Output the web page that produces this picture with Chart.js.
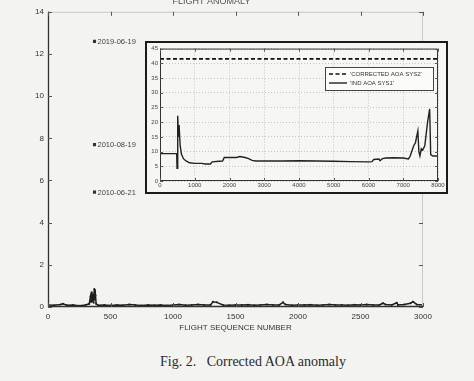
<!DOCTYPE html>
<html><head><meta charset="utf-8">
<script src="https://cdn.jsdelivr.net/npm/chart.js@4"></script>
<style>
html,body{margin:0;padding:0;background:#f3f3f1;width:474px;height:381px;overflow:hidden;position:relative;}
#main{position:absolute;left:0;top:-7px;}
#insetBox{position:absolute;left:145px;top:41px;width:299px;height:149px;border:2px solid #1a1a1a;background:#f6f6f4;}
#inset{display:block;}
#cap{position:absolute;left:16px;width:474px;top:354px;text-align:center;font-family:"Liberation Serif","DejaVu Serif",serif;font-size:14px;color:#2a2a2a;white-space:pre;}
</style></head>
<body>
<canvas id="main" width="474" height="342"></canvas>
<div id="insetBox"><canvas id="inset" width="299" height="149"></canvas></div>
<div id="cap">Fig. 2.   Corrected AOA anomaly</div>
<script>
// ---- main chart data ----
const seqNo = [0,50,100,120,150,200,250,300,330,340,
  345,350,355,360,365,370,375,380,385,400,
  450,500,550,600,650,700,750,800,850,900,
  950,1000,1050,1100,1150,1200,1250,1300,1320,1350,
  1400,1450,1500,1550,1600,1650,1700,1750,1800,1850,
  1880,1900,1950,2000,2050,2100,2150,2200,2250,2300,
  2350,2400,2450,2500,2550,2600,2650,2680,2700,2750,
  2790,2800,2850,2900,2920,2950,3000];
const anomaly = [0.10,0.08,0.12,0.15,0.08,0.10,0.06,0.10,0.15,0.50,
  0.25,0.70,0.30,0.60,0.20,0.85,0.35,0.55,0.15,0.08,
  0.10,0.07,0.10,0.08,0.12,0.09,0.07,0.10,0.08,0.10,
  0.07,0.09,0.12,0.08,0.10,0.12,0.09,0.10,0.25,0.22,
  0.10,0.08,0.10,0.09,0.11,0.08,0.10,0.12,0.09,0.10,
  0.22,0.12,0.08,0.10,0.09,0.11,0.08,0.10,0.12,0.09,
  0.10,0.08,0.11,0.10,0.12,0.09,0.10,0.18,0.12,0.10,
  0.20,0.10,0.12,0.18,0.25,0.12,0.10];
const dateSeq = [372,372,372];
const dateVal = [12.6,7.7,5.45];
const dateLabels = ['2019-06-19','2010-08-19','2010-06-21'];
const mainXTicks = [0,500,1000,1500,2000,2500,3000];
const mainYTicks = [0,2,4,6,8,10,12,14];

// ---- inset data ----
const aoaX = [0,480,490,510,530,550,580,620,680,750,
  850,1000,1200,1300,1450,1500,1700,1800,1850,2000,
  2200,2300,2450,2550,2650,2750,3000,3500,4000,4500,
  5000,5500,6000,6100,6150,6300,6330,6400,6500,6700,
  7000,7150,7200,7300,7350,7420,7450,7480,7520,7560,
  7620,7700,7760,7790,7850,8000];
const aoaY = [9.3,9.3,4.3,22.2,15,19,12,9,7.5,6.8,
  6.2,6.0,6.0,5.8,5.8,6.5,6.7,6.8,8.0,8.0,
  8.0,8.3,8.0,7.6,7.0,6.8,6.8,6.8,6.9,6.8,
  6.7,6.6,6.5,6.6,7.3,7.5,6.9,7.6,7.8,7.9,
  7.8,7.5,8.5,12,13,17,10,8.5,11,10.5,
  12,20,24.5,9,8.5,8.5];
const corrX = [0,8000];
const corrY = [41.5,41.5];
const insetNames = ["'CORRECTED AOA SYS2'", "'IND AOA SYS1'"];
const insetXTicks = [0,1000,2000,3000,4000,5000,6000,7000,8000];
const insetYTicks = [0,5,10,15,20,25,30,35,40,45];

const FONT = "'Liberation Sans', Arial, sans-serif";

function setTicks(list){ return s => { s.ticks = list.map(v => ({value:v})); }; }
const plain = v => String(v);

const frameTicks = {
  id:'frameTicks',
  afterDatasetsDraw(chart, args, o){
    const {ctx, chartArea:a, scales:{x, y}} = chart;
    ctx.save();
    ctx.lineWidth = 1;
    ctx.strokeStyle = o.light;
    ctx.beginPath();
    ctx.moveTo(a.left, a.top+0.5); ctx.lineTo(a.right-0.5, a.top+0.5); ctx.lineTo(a.right-0.5, a.bottom);
    ctx.stroke();
    ctx.strokeStyle = o.dark;
    ctx.lineWidth = o.axisW;
    ctx.beginPath();
    ctx.moveTo(a.left+0.5, a.top); ctx.lineTo(a.left+0.5, a.bottom-0.5); ctx.lineTo(a.right, a.bottom-0.5);
    ctx.stroke();
    ctx.lineWidth = 1;
    ctx.strokeStyle = o.tick;
    ctx.beginPath();
    x.ticks.forEach(t => {
      const px = Math.round(x.getPixelForValue(t.value)) + 0.5;
      ctx.moveTo(px, a.bottom); ctx.lineTo(px, a.bottom - o.len);
      ctx.moveTo(px, a.top); ctx.lineTo(px, a.top + o.len);
    });
    y.ticks.forEach(t => {
      const py = Math.round(y.getPixelForValue(t.value)) + 0.5;
      ctx.moveTo(a.left, py); ctx.lineTo(a.left + o.len, py);
      ctx.moveTo(a.right, py); ctx.lineTo(a.right - o.len, py);
    });
    ctx.stroke();
    ctx.restore();
  }
};

const dateTags = {
  id:'dateTags',
  afterDatasetsDraw(chart){
    const {ctx} = chart;
    const meta = chart.getDatasetMeta(1);
    ctx.save();
    ctx.font = "7.5px " + FONT;
    ctx.fillStyle = '#444';
    ctx.textBaseline = 'middle';
    meta.data.forEach((el, i) => { ctx.fillText(dateLabels[i], el.x + 3, el.y + 0.5); });
    ctx.restore();
  }
};

new Chart(document.getElementById('main'), {
  type:'scatter',
  data:{datasets:[
    {label:'FLIGHT ANOMALY', data: seqNo.map((x,i)=>({x, y:anomaly[i]})), showLine:true,
     borderColor:'#1e1e1e', borderWidth:1.5, pointRadius:1, pointBackgroundColor:'#1e1e1e', pointBorderWidth:0},
    {label:'dates', data: dateSeq.map((x,i)=>({x, y:dateVal[i]})), showLine:false, pointStyle:'rect',
     pointRadius:2.2, backgroundColor:'#333', borderColor:'#333', borderWidth:0}
  ]},
  options:{
    responsive:false, animation:false,
    layout:{padding:{left:0,right:51,top:0,bottom:0}},
    plugins:{
      legend:{display:false}, tooltip:{enabled:false},
      title:{display:true, text:'FLIGHT ANOMALY', color:'#555', font:{family:FONT, size:9, weight:'normal'}, padding:{top:3,bottom:5}},
      frameTicks:{light:'#c9c9c9', dark:'#333', tick:'#555', axisW:1.3, len:4}
    },
    scales:{
      x:{type:'linear', min:0, max:3000, afterBuildTicks:setTicks(mainXTicks),
         ticks:{font:{family:FONT,size:8}, color:'#333', padding:5, maxRotation:0, callback:plain},
         grid:{display:false, drawTicks:false}, border:{display:false},
         title:{display:true, text:'FLIGHT SEQUENCE NUMBER', color:'#333', font:{family:FONT,size:8}, padding:{top:0,bottom:2}},
         afterFit:s=>{s.height=28;}},
      y:{type:'linear', min:0, max:14, afterBuildTicks:setTicks(mainYTicks),
         ticks:{font:{family:FONT,size:8}, color:'#333', padding:4, callback:plain},
         grid:{display:false, drawTicks:false}, border:{display:false},
         afterFit:s=>{s.width=48;}}
    }
  },
  plugins:[frameTicks, dateTags]
});

const insetLegend = {
  id:'insetLegend',
  afterDatasetsDraw(chart, args, o){
    const {ctx} = chart;
    ctx.save();
    ctx.fillStyle = '#fbfbfa';
    ctx.fillRect(o.x, o.y, o.w, o.h);
    ctx.strokeStyle = '#444'; ctx.lineWidth = 1;
    ctx.strokeRect(o.x+0.5, o.y+0.5, o.w, o.h);
    ctx.font = "6px " + FONT;
    ctx.textBaseline = 'middle';
    chart.data.datasets.forEach((ds, i) => {
      const yy = o.y + 7 + i*9;
      ctx.strokeStyle = ds.borderColor; ctx.lineWidth = ds.borderWidth;
      ctx.setLineDash(ds.borderDash || []);
      ctx.beginPath(); ctx.moveTo(o.x+4, yy); ctx.lineTo(o.x+22, yy); ctx.stroke();
      ctx.setLineDash([]);
      ctx.fillStyle = '#333';
      ctx.fillText(ds.label, o.x+25, yy);
    });
    ctx.restore();
  }
};

new Chart(document.getElementById('inset'), {
  type:'scatter',
  data:{datasets:[
    {label:insetNames[0], data: corrX.map((x,i)=>({x, y:corrY[i]})), showLine:true,
     borderColor:'#111', borderWidth:1.6, borderDash:[4,2.5], pointRadius:0},
    {label:insetNames[1], data: aoaX.map((x,i)=>({x, y:aoaY[i]})), showLine:true,
     borderColor:'#222', borderWidth:1.4, pointRadius:0}
  ]},
  options:{
    responsive:false, animation:false,
    layout:{padding:{left:0,right:8,top:2,bottom:0}},
    plugins:{
      legend:{display:false}, tooltip:{enabled:false},
      frameTicks:{light:'#333', dark:'#333', tick:'#555', axisW:1, len:3},
      insetLegend:{x:178, y:24, w:108, h:23}
    },
    scales:{
      x:{type:'linear', min:0, max:8000, afterBuildTicks:setTicks(insetXTicks),
         ticks:{font:{family:FONT,size:6}, color:'#444', padding:1, maxRotation:0, callback:plain},
         grid:{color:'#b8b8b8', lineWidth:0.8, drawTicks:false}, border:{display:false, dash:[1,2]},
         afterFit:s=>{s.height=11;}},
      y:{type:'linear', min:0, max:45, afterBuildTicks:setTicks(insetYTicks),
         ticks:{font:{family:FONT,size:6}, color:'#444', padding:2, callback:plain},
         grid:{color:'#b8b8b8', lineWidth:0.8, drawTicks:false}, border:{display:false, dash:[1,2]},
         afterFit:s=>{s.width=13;}}
    }
  },
  plugins:[frameTicks, insetLegend]
});
</script>
</body></html>
